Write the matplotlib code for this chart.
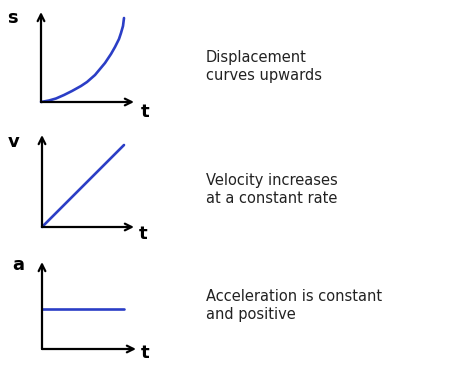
import numpy as np
import matplotlib.pyplot as plt

# values (pixels from each origin)
t_disp = [0, 8, 15, 23, 31, 40, 46, 54, 64, 70, 74, 78, 80, 82, 83]
s_disp = [0, 1.5, 3.5, 7, 11, 16, 20, 27, 39, 48, 55, 63, 69, 76, 84]

t_vel = [0, 82]
v_vel = [0, 82]

t_acc = [0, 82]
a_acc = [40, 40]

y_labels = ['s', 'v', 'a']
captions = ['Displacement\ncurves upwards',
            'Velocity increases\nat a constant rate',
            'Acceleration is constant\nand positive']

W, H = 474, 371
blue = '#2b3ec6'

fig = plt.figure(figsize=(W / 100, H / 100), dpi=100)


def panel(ox, oy, ytop, xtip):
    # axes where one data unit is one pixel, origin at (ox, oy)
    ax = fig.add_axes([(ox - 40) / W, (H - (oy + 20)) / H, 160 / W, 125 / H])
    ax.set_xlim(-40, 120)
    ax.set_ylim(-20, 105)
    ax.axis('off')
    arrow = dict(arrowstyle='->', color='black', lw=1.6,
                 mutation_scale=12, shrinkA=0, shrinkB=0)
    ax.annotate('', xy=(0, oy - ytop), xytext=(0, 0), arrowprops=arrow)
    ax.annotate('', xy=(xtip - ox, 0), xytext=(0, 0), arrowprops=arrow)
    return ax


ax1 = panel(41, 102, 12, 134)
ax1.plot(t_disp, s_disp, color=blue, lw=1.9, solid_capstyle='round')
ax1.text(-29, 84, y_labels[0], fontsize=13, fontweight='bold', ha='center', va='center')
ax1.text(104, -10, 't', fontsize=13, fontweight='bold', ha='center', va='center')

ax2 = panel(42, 227, 135, 134)
ax2.plot(t_vel, v_vel, color=blue, lw=1.9, solid_capstyle='round')
ax2.text(-28, 85, y_labels[1], fontsize=13, fontweight='bold', ha='center', va='center')
ax2.text(101, -7, 't', fontsize=13, fontweight='bold', ha='center', va='center')

ax3 = panel(42, 349, 262, 136)
ax3.plot(t_acc, a_acc, color=blue, lw=1.9, solid_capstyle='round')
ax3.text(-24, 84, y_labels[2], fontsize=13, fontweight='bold', ha='center', va='center')
ax3.text(103, -4, 't', fontsize=13, fontweight='bold', ha='center', va='center')

# baseline of the last line of each caption
for cap, base in zip(captions, [80, 203, 319]):
    fig.text(206 / W, 1 - base / H, cap, fontsize=10.5, color='#222222',
             va='baseline', ha='left', linespacing=1.25)

fig.savefig('out.png', dpi=100)
